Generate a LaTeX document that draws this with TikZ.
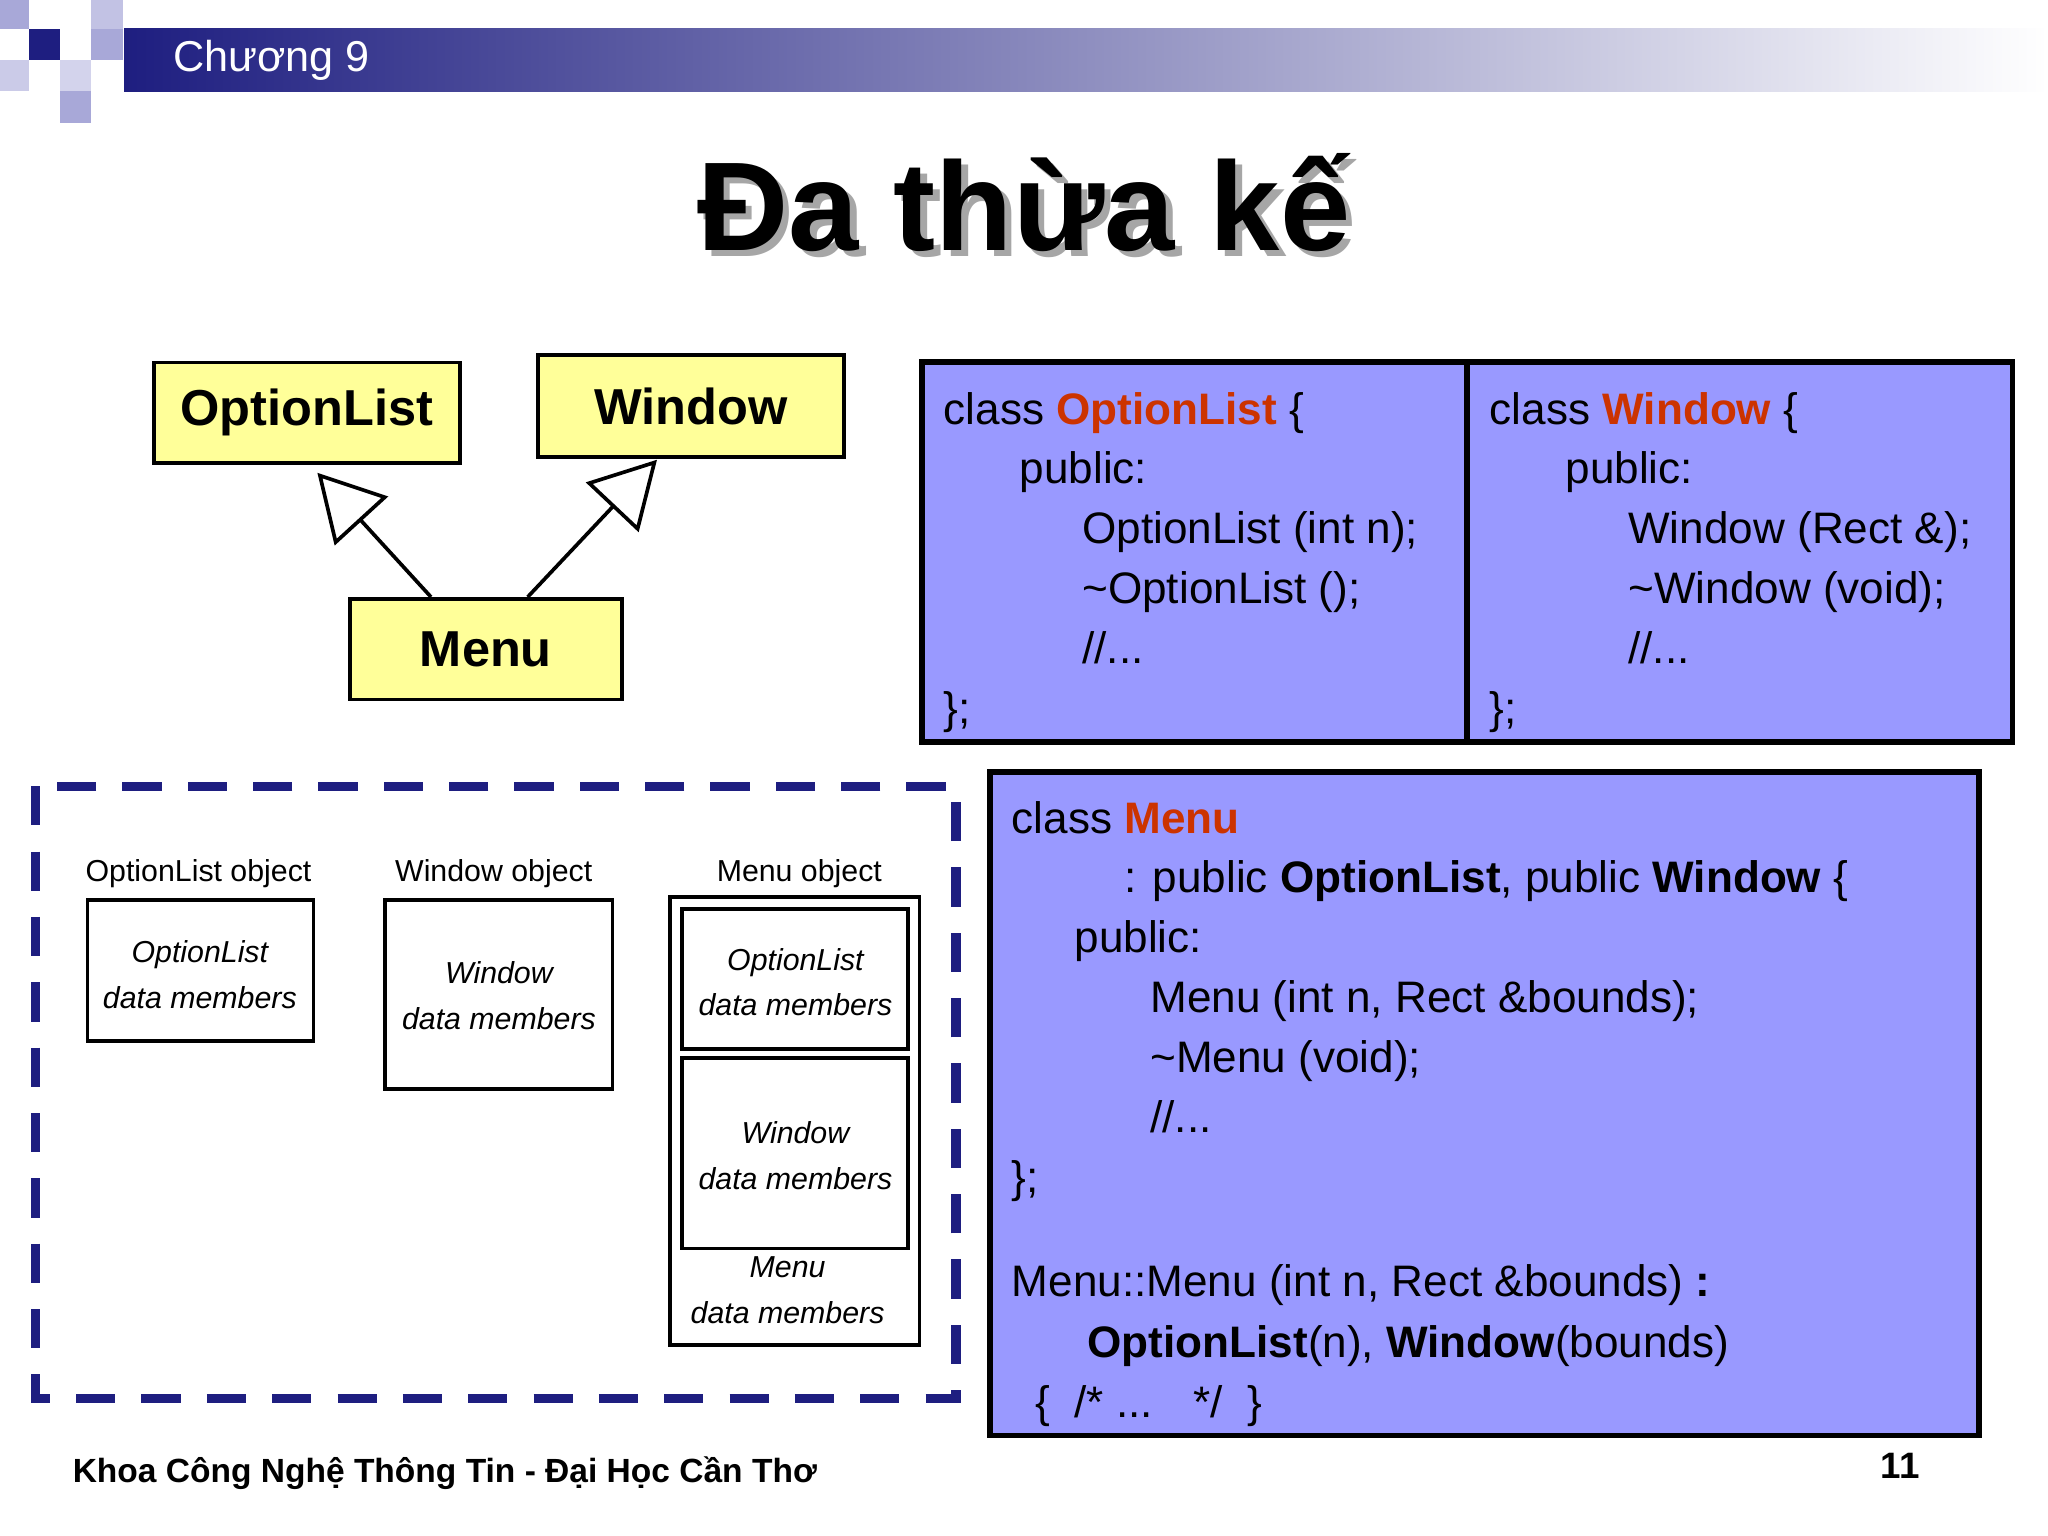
\documentclass[tikz,border=0pt]{standalone}
\usepackage{fontspec}
\setmainfont{Liberation Sans}
\usetikzlibrary{positioning,arrows.meta}
\definecolor{navy}{HTML}{1E1E80}
\definecolor{codebg}{HTML}{9999FF}
\definecolor{yel}{HTML}{FFFF99}
\definecolor{cls}{HTML}{CC3300}
\definecolor{lav}{HTML}{A8A8D8}
\begin{document}
\begin{tikzpicture}[x=0.01cm, y=-0.01cm,
    ybox/.style={draw, fill=yel, thick, inner sep=0pt},
    ylabel/.style={font=\fontsize{11}{13}\selectfont\bfseries},
    codebox/.style={draw, fill=codebg, line width=1.2pt},
    code/.style={anchor=base west, inner sep=0pt, font=\fontsize{9.6}{11}\selectfont},
    small/.style={font=\fontsize{6.6}{8}\selectfont, align=center},
    objbox/.style={draw, thick},
    inherit/.style={-{Triangle[open, length=0.5cm, width=0.55cm]}, thick}
]
    \useasboundingbox (0,0) rectangle (1568,1176);

    % Header
    \shade[left color=navy, right color=white] (95,22) rectangle (1568,70);
    \fill[navy] (22,22) rectangle (46,46);
    \fill[lav] (0,0) rectangle (22,22);
    \fill[lav!60] (0,46) rectangle (22,70);
    \fill[lav!70] (70,0) rectangle (94,22);
    \fill[lav] (70,22) rectangle (94,46);
    \fill[lav] (46,70) rectangle (70,94);
    \fill[lav!50] (46,46) rectangle (70,70);
    \node[anchor=west, inner sep=0pt, text=white, font=\fontsize{9.4}{11}\selectfont] (chapter) at (132,46) {Chương 9};

    % Title
    \node[text=gray!70, font=\fontsize{27.5}{32}\selectfont\bfseries] at (789,160) {Đa thừa kế};
    \node[font=\fontsize{27.5}{32}\selectfont\bfseries] (title) at (784,155) {Đa thừa kế};

    % Class diagram
    \node[ybox, minimum width=2.34cm, minimum height=0.77cm, ylabel] (optionlist) at (235,316) {OptionList};
    \node[ybox, minimum width=2.34cm, minimum height=0.78cm, ylabel] (window) at (529,311) {Window};
    \node[ybox, minimum width=2.08cm, minimum height=0.77cm, ylabel] (menu) at (372,497) {Menu};
    \coordinate (ol tip) at (243,362);
    \coordinate (w tip) at (503,352);
    \draw[inherit] ([xshift=-0.42cm]menu.north) -- (ol tip);
    \draw[inherit] ([xshift=0.32cm]menu.north) -- (w tip);

    % Code boxes
    \draw[codebox] (706,277) rectangle (1123,568);
    \draw[codebox] (1123,277) rectangle (1541,568);
    \draw[codebox] (758,591) rectangle (1515,1099);

    \node[code] (c1) at (722,325) {class \textcolor{cls}{\bfseries OptionList} \{};
    \node[code] at (780,370) {public:};
    \node[code] at (828,416) {OptionList (int n);};
    \node[code] at (828,462) {\textasciitilde OptionList ();};
    \node[code] at (828,508) {//...};
    \node[code] at (722,554) {\};};

    \node[code] (c2) at (1140,325) {class \textcolor{cls}{\bfseries Window} \{};
    \node[code] at (1198,370) {public:};
    \node[code] at (1246,416) {Window (Rect \&);};
    \node[code] at (1246,462) {\textasciitilde Window (void);};
    \node[code] at (1246,508) {//...};
    \node[code] at (1140,554) {\};};

    \node[code] (c3) at (774,638) {class \textcolor{cls}{\bfseries Menu}};
    \node[code] at (860,683) {: public \textbf{OptionList}, public \textbf{Window} \{};
    \node[code] at (822,729) {public:};
    \node[code] at (880,775) {Menu (int n, Rect \&bounds);};
    \node[code] at (880,821) {\textasciitilde Menu (void);};
    \node[code] at (880,867) {//...};
    \node[code] at (774,913) {\};};
    \node[code] at (774,993) {Menu::Menu (int n, Rect \&bounds) \textbf{:}};
    \node[code] at (832,1039) {\textbf{OptionList}(n), \textbf{Window}(bounds)};
    \node[code] at (792,1085) {\{ \ /* ... \ \ */ \ \}};

    % Object layout
    \draw[navy, line width=2pt, dash pattern=on 0.3cm off 0.2cm] (27,602) rectangle (732,1071);
    \node[small] at (152,669) {OptionList object};
    \draw[objbox] (67,689) rectangle (240,797);
    \node[small] at (153,746) {\itshape OptionList\\[2pt]\itshape data members};
    \node[small] at (378,669) {Window object};
    \draw[objbox] (295,689) rectangle (469,834);
    \node[small] at (382,762) {\itshape Window\\[2pt]\itshape data members};
    \node[small] at (612,669) {Menu object};
    \draw[objbox] (513,687) rectangle (704,1030);
    \draw[objbox] (522,696) rectangle (695,803);
    \node[small] at (609,752) {\itshape OptionList\\[2pt]\itshape data members};
    \draw[objbox] (522,810) rectangle (695,956);
    \node[small] at (609,885) {\itshape Window\\[2pt]\itshape data members};
    \node[small] at (603,988) {\itshape Menu\\[2pt]\itshape data members};

    % Footer
    \node[anchor=west, inner sep=0pt, font=\fontsize{7.3}{9}\selectfont\bfseries] (footer) at (55,1128) {Khoa Công Nghệ Thông Tin - Đại Học Cần Thơ};
    \node[font=\fontsize{8}{10}\selectfont\bfseries] (page) at (1455,1122) {11};
\end{tikzpicture}
\end{document}
